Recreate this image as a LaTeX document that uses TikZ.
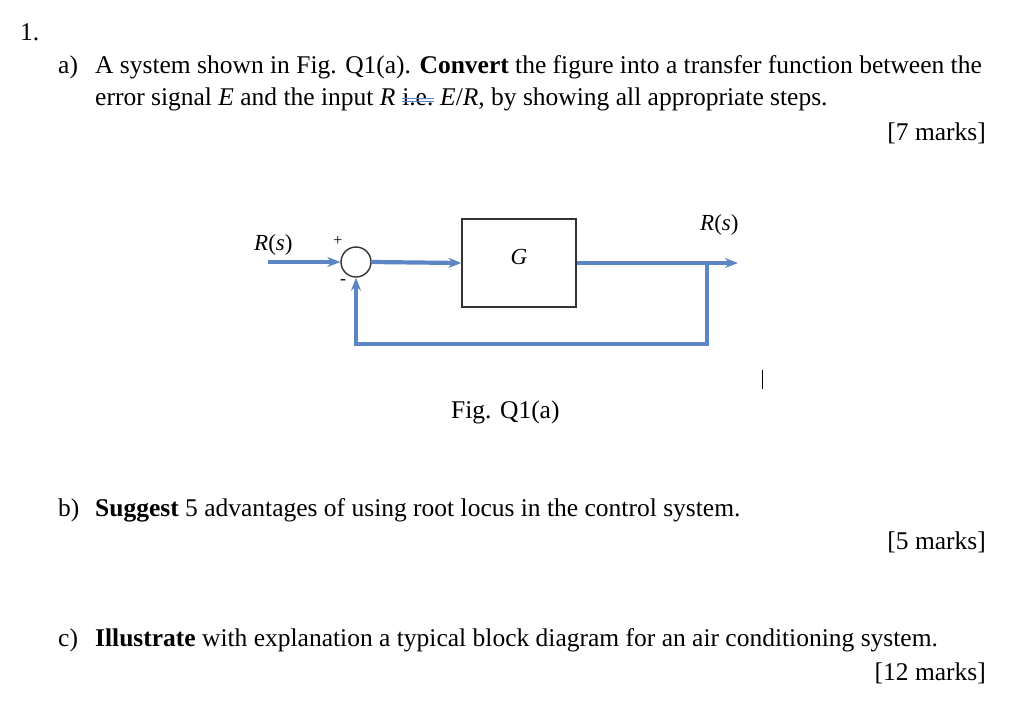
\documentclass[tikz,border=0pt]{standalone}
\usepackage{fontspec}
\setmainfont{Liberation Serif}
\usetikzlibrary{arrows.meta}
\definecolor{sigblue}{RGB}{91,133,196}
\begin{document}
\begin{tikzpicture}[x=1pt,y=-1pt,
  txt/.style={anchor=base west,inner sep=0pt,font=\fontsize{25.5}{30}\selectfont},
  rtxt/.style={anchor=base east,inner sep=0pt,font=\fontsize{25.5}{30}\selectfont},
  lbl/.style={anchor=base west,inner sep=0pt,font=\fontsize{23}{27}\selectfont},
  sig/.style={draw=sigblue,line width=4.2pt},
  arr/.style={sig,-{Stealth[length=13pt,width=10pt]}},
  blk/.style={draw=black!80,line width=1.2pt,minimum width=114pt,minimum height=88pt,inner sep=0pt}]
\useasboundingbox (0,0) rectangle (1024,713);
\node[txt] (q1) at (20,40) {1.};
\node[txt] (a0) at (58,73) {a)};
\node[txt] (a1) at (95,73) {A system shown in Fig. Q1(a). \textbf{Convert} the figure into a transfer function between the};
\node[txt] (a2) at (95,105) {error signal \textit{E} and the input \textit{R}};
\node[txt,anchor=base west] (ie) at ([xshift=6.4pt]a2.base east) {i.e.};
\node[txt,anchor=base west] (a3) at ([xshift=6.4pt]ie.base east) {\textit{E}/\textit{R}, by showing all appropriate steps.};
\node[rtxt] (m1) at (986,140) {[7 marks]};
% spell-check marks under i.e.
\draw[sigblue,line width=0.8pt] ([yshift=4pt]ie.base west) -- ([yshift=4pt]ie.base east)
  ([yshift=7pt]ie.base west) -- ([yshift=7pt]ie.base east);
% block diagram
\node[draw=black!80,circle,line width=1.4pt,minimum size=30pt,inner sep=0pt] (sum) at (356,262) {};
\node[blk] (g) at (519,263) {};
\node[font=\fontsize{23}{27}\selectfont\itshape] (gl) at (519,257) {G};
\coordinate (in) at (268,262);
\coordinate (br) at (707,263);
\coordinate (out) at (738,263);
\coordinate (bl) at (356,344);
\draw[arr] (in) -- (sum.west);
\draw[arr] (sum.east) -- (g.west);
\draw[arr] (g.east) -- (out);
\draw[arr] (br) |- (bl) -- (sum.south);
\node[lbl] (rin) at (254,250) {\textit{R}(\textit{s})};
\node[lbl] (rout) at (700,230) {\textit{R}(\textit{s})};
\node[font=\fontsize{16}{18}\selectfont] (plus) at (338,241) {+};
\node[font=\fontsize{18}{20}\selectfont] (minus) at (343,282) {-};
\draw[black,line width=1pt] (762,370) -- (762,389);
\node[txt] (fig) at (451,418) {Fig. Q1(a)};
% part b
\node[txt] (b0) at (58,516) {b)};
\node[txt] (b1) at (95,516) {\textbf{Suggest} 5 advantages of using root locus in the control system.};
\node[rtxt] (m2) at (986,549) {[5 marks]};
% part c
\node[txt] (c0) at (58,646) {c)};
\node[txt] (c1) at (95,646) {\textbf{Illustrate} with explanation a typical block diagram for an air conditioning system.};
\node[rtxt] (m3) at (986,680) {[12 marks]};
\end{tikzpicture}
\end{document}
